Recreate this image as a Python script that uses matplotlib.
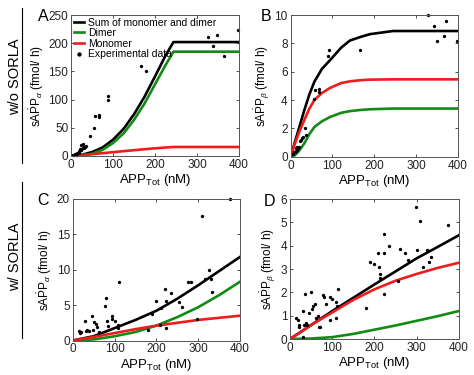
import matplotlib
matplotlib.use('Agg')
import matplotlib.pyplot as plt
from matplotlib.lines import Line2D

plt.rcParams['font.family'] = ['Liberation Sans', 'DejaVu Sans']
plt.rcParams['mathtext.fontset'] = 'custom'
plt.rcParams['mathtext.rm'] = 'Liberation Sans'
plt.rcParams['mathtext.it'] = 'Liberation Sans:italic'

# ---- panel A: sAPPalpha, without SORLA ----
a_x = [0, 25, 50, 75, 100, 125, 150, 175, 200, 225, 244, 400]
a_sum = [0, 2, 7, 15, 29, 48, 74, 105, 141, 178, 202, 202]
a_dimer = [0, 1, 4, 11, 23, 40, 64, 93, 127, 161, 185, 185]
a_mono = [0, 1.5, 3.2, 5, 6.8, 8.6, 10.3, 12, 13.6, 15, 16, 16]
a_pts_x = [5.5, 8, 10, 12, 15, 18, 19, 20, 22, 23, 24.5, 24.5, 27.6, 28, 30, 31, 33, 36,
           44, 54, 56, 66, 66, 89, 89, 166, 179, 327, 338, 348, 365, 397]
a_pts_y = [1.2, 1, 3, 2, 5.3, 6, 7, 8, 12, 10, 19, 13, 22, 15, 14, 16, 16, 17,
           35, 50, 71, 73, 69, 106, 99, 159, 150, 211, 195, 214, 178, 224]

# ---- panel B: sAPPbeta, without SORLA ----
b_x = [0, 10, 20, 33, 45, 57, 75, 94, 121, 142, 167, 190, 245, 400]
b_sum = [0, 1.0, 2.0, 3.3, 4.4, 5.3, 6.2, 6.8, 7.7, 8.2, 8.45, 8.65, 8.87, 8.87]
b_mono = [0, 0.9, 1.7, 2.6, 3.4, 4.0, 4.5, 4.85, 5.2, 5.32, 5.4, 5.44, 5.46, 5.46]
b_dimer = [0, 0.1, 0.4, 0.95, 1.6, 2.1, 2.5, 2.8, 3.1, 3.22, 3.3, 3.35, 3.4, 3.4]
b_pts_x = [5, 8, 10, 12, 14, 15, 16, 18, 20, 22, 25, 28, 30, 35, 38,
           57, 58, 68, 68, 90, 92, 167, 328, 342, 350, 368, 372, 399]
b_pts_y = [0.2, 0.3, 0.3, 0.4, 0.6, 0.5, 0.7, 0.6, 0.7, 1.1, 1.2, 1.3, 1.4, 2.0, 1.5,
           4.1, 4.7, 4.8, 4.6, 7.1, 7.5, 7.5, 10.0, 9.2, 8.2, 8.5, 9.6, 8.2]

# ---- panel C: sAPPalpha, with SORLA ----
c_x = [0, 50, 100, 150, 200, 250, 300, 350, 400]
c_sum = [0, 0.6, 1.75, 2.9, 4.2, 5.9, 7.8, 9.8, 11.8]
c_dimer = [0, 0.15, 0.6, 1.2, 2.1, 3.3, 4.7, 6.4, 8.3]
c_mono = [0, 0.5, 1.05, 1.6, 2.1, 2.5, 2.9, 3.2, 3.5]
c_pts_x = [15, 18, 20, 30, 32, 35, 40, 45, 48, 50, 55, 58, 62, 78, 80, 82, 85, 93, 95,
           100, 107, 108, 110, 180, 190, 200, 208, 210, 220, 222, 222, 235, 255, 260,
           275, 282, 298, 308, 315, 325, 330, 333, 375]
c_pts_y = [1.3, 1.0, 1.2, 2.8, 1.3, 1.5, 1.4, 3.4, 1.5, 2.6, 2.3, 1.9, 1.2, 4.8, 6.0, 2.7,
           2.1, 3.4, 3.0, 2.7, 2.2, 1.7, 8.3, 1.5, 3.7, 5.6, 2.2, 4.6, 7.2, 5.6, 1.7, 6.7,
           5.4, 4.7, 8.3, 8.3, 3.1, 17.6, 8.7, 10.0, 8.7, 6.9, 20.0]

# ---- panel D: sAPPbeta, with SORLA ----
d_x = [0, 50, 100, 150, 200, 250, 300, 350, 400]
d_sum = [0, 0.6, 1.2, 1.77, 2.34, 2.9, 3.46, 3.95, 4.45]
d_mono = [0, 0.6, 1.14, 1.68, 2.13, 2.5, 2.79, 3.05, 3.27]
d_dimer = [0, 0.02, 0.08, 0.22, 0.4, 0.58, 0.78, 0.98, 1.2]
d_pts_x = [15, 18, 20, 22, 30, 30, 32, 35, 38, 40, 45, 50, 52, 55, 60, 62, 65, 68, 70,
           78, 80, 85, 95, 95, 100, 108, 110, 112, 113, 180, 190, 200, 208, 210, 212, 212,
           222, 222, 222, 235, 255, 260, 272, 280, 298, 300, 308, 315, 325, 330, 333, 375]
d_pts_y = [0.9, 0.8, 0.6, 0.5, 1.2, 0.1, 0.6, 1.95, 0.7, 0.6, 1.1, 2.0, 1.3, 1.4, 1.5, 0.9,
           1.0, 0.5, 0.5, 1.9, 1.8, 1.5, 1.8, 0.8, 1.7, 0.9, 1.6, 1.4, 2.15, 1.35, 3.3, 3.2,
           3.7, 3.1, 2.8, 2.6, 4.5, 3.7, 1.95, 4.0, 2.5, 3.85, 3.7, 3.4, 5.65, 3.8, 5.05,
           3.1, 3.8, 3.3, 3.5, 4.9]

GREEN = '#138a13'
RED = '#ee1c1c'

fig = plt.figure(figsize=(4.74, 3.75), dpi=100)

panels = [
    ('A', [0.150, 0.584, 0.354, 0.376], 0.080, a_x, a_sum, a_dimer, a_mono, a_pts_x, a_pts_y,
     250, 50, r'\alpha'),
    ('B', [0.613, 0.582, 0.353, 0.378], 0.551, b_x, b_sum, b_dimer, b_mono, b_pts_x, b_pts_y,
     10, 2, r'\beta'),
    ('C', [0.1535, 0.092, 0.353, 0.378], 0.078, c_x, c_sum, c_dimer, c_mono, c_pts_x, c_pts_y,
     20, 5, r'\alpha'),
    ('D', [0.612, 0.096, 0.356, 0.373], 0.557, d_x, d_sum, d_dimer, d_mono, d_pts_x, d_pts_y,
     6, 1, r'\beta'),
]

for letter, pos, lx, x, s, dm, mn, px, py, ymax, ystep, greek in panels:
    ax = fig.add_axes(pos)
    ax.plot(x, s, color='black', lw=1.9, label='Sum of monomer and dimer')
    ax.plot(x, dm, color=GREEN, lw=1.9, label='Dimer')
    ax.plot(x, mn, color=RED, lw=1.9, label='Monomer')
    ax.plot(px, py, 'o', color='black', ms=2.4, mew=0, label='Experimental data',
            clip_on=False)
    ax.set_xlim(0, 400)
    ax.set_ylim(0, ymax)
    ax.set_xticks(range(0, 401, 100))
    ax.set_yticks(range(0, ymax + 1, ystep))
    ax.tick_params(direction='in', length=2.5, width=0.6, labelsize=8.5, pad=2,
                   top=True, right=True, colors='#333333', labelcolor='#222222')
    for sp in ax.spines.values():
        sp.set_color('#555555')
        sp.set_linewidth(0.7)
    ax.set_xlabel(r'APP$_{\rm Tot}$ (nM)', fontsize=9.5, labelpad=1)
    ax.set_ylabel(r'sA$\dot{\rm P}$P$_{' + greek + r'}$ (fmol/ h)', fontsize=8.5, labelpad=2)
    fig.text(lx, pos[1] + pos[3] - 0.005, letter, fontsize=11.5,
             ha='left', va='center')
    if letter == 'A':
        ax.legend(loc='upper left', fontsize=7.5, frameon=False, handlelength=1.0,
                  handletextpad=0.4, labelspacing=0.05, borderaxespad=0.15,
                  borderpad=0.1, markerscale=1.3)

# row labels with separator lines
fig.text(0.032, 0.795, 'w/o SORLA', rotation=90, fontsize=10.5, ha='center', va='center')
fig.text(0.032, 0.315, 'w/ SORLA', rotation=90, fontsize=10.5, ha='center', va='center')
fig.add_artist(Line2D([0.0464, 0.0464], [0.565, 0.979], color='black', lw=0.8))
fig.add_artist(Line2D([0.0464, 0.0464], [0.099, 0.515], color='black', lw=0.8))

fig.savefig('out.png', dpi=100)
